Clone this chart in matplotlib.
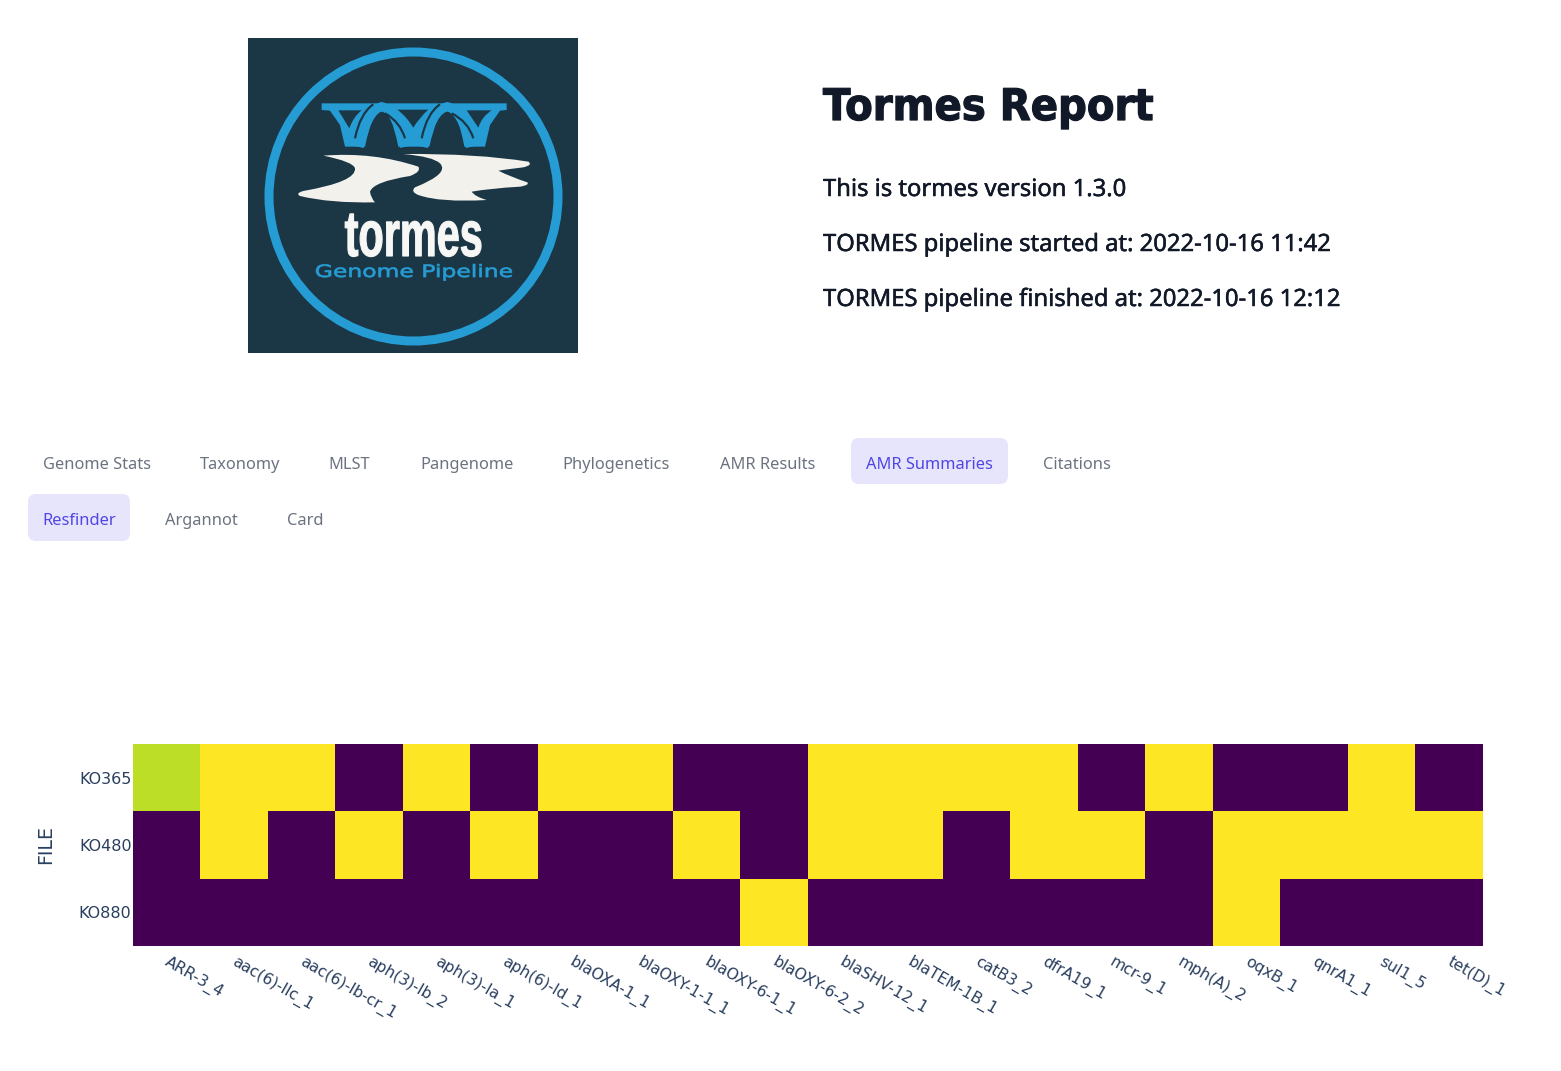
import numpy as np
import matplotlib; matplotlib.use("Agg"); import matplotlib.pyplot as plt
import matplotlib.patheffects as pe
from matplotlib.patches import Circle, FancyBboxPatch, PathPatch, Rectangle
from matplotlib.path import Path
from matplotlib.transforms import Affine2D, ScaledTranslation

W, H = 1561, 1071
genes = ["ARR-3_4", "aac(6)-IIc_1", "aac(6)-Ib-cr_1", "aph(3)-Ib_2", "aph(3)-Ia_1", "aph(6)-Id_1",
         "blaOXA-1_1", "blaOXY-1-1_1", "blaOXY-6-1_1", "blaOXY-6-2_2", "blaSHV-12_1", "blaTEM-1B_1",
         "catB3_2", "dfrA19_1", "mcr-9_1", "mph(A)_2", "oqxB_1", "qnrA1_1", "sul1_5", "tet(D)_1"]
samples = ["KO365", "KO480", "KO880"]
ko365 = [0.9, 1, 1, 0, 1, 0, 1, 1, 0, 0, 1, 1, 1, 1, 0, 1, 0, 0, 1, 0]
ko480 = [0, 1, 0, 1, 0, 1, 0, 0, 1, 0, 1, 1, 0, 1, 1, 0, 1, 1, 1, 1]
ko880 = [0, 0, 0, 0, 0, 0, 0, 0, 0, 1, 0, 0, 0, 0, 0, 0, 1, 0, 0, 0]
tabs_top = ["Genome Stats", "Taxonomy", "MLST", "Pangenome", "Phylogenetics", "AMR Results", "AMR Summaries", "Citations"]
tabs_top_x = [43, 200, 328, 420, 562, 720, 866, 1043]
tabs_sub = ["Resfinder", "Argannot", "Card"]
tabs_sub_x = [42, 165, 287]
info_lines = ["This is tormes version 1.3.0", "TORMES pipeline started at: 2022-10-16 11:42",
              "TORMES pipeline finished at: 2022-10-16 12:12"]

NAVY, BLUE, CREAM = "#1b3746", "#269cd4", "#f3f1ec"
GRAY, ACTIVE, ACTIVE_BG = "#6b7280", "#4f46e5", "#e7e5fb"
INK, TICK = "#111827", "#2a3f5f"
px = 0.72  # css px -> pt at dpi 100

class Stretch(pe.AbstractPathEffect):
    # no condensed/black fonts here, so scale (and thicken) the drawn text around its anchor (page px)
    def __init__(self, x, y, sx=1, sy=1, lw=0):
        self.t = Affine2D().translate(-x, y-H).scale(sx, sy).translate(x, H-y)
        self.lw = lw
    def draw_path(self, renderer, gc, tpath, affine, rgbFace=None):
        if self.lw:
            gc.set_linewidth(self.lw); gc.set_foreground(rgbFace)
        renderer.draw_path(gc, tpath, affine + self.t, rgbFace)

fig = plt.figure(figsize=(W/100, H/100), dpi=100, facecolor="white")
page = fig.add_axes([0, 0, 1, 1]); page.set_xlim(0, W); page.set_ylim(H, 0); page.axis("off")

def curve(pts, ox, oy, color, z_=3, closed=True, lw=0):
    v = [(x/3+ox, y/3+oy) for x, y in pts]
    p = Path(v, [Path.MOVETO] + [Path.CURVE3]*(len(v)-1))
    page.add_patch(PathPatch(p, fc=(color if closed else "none"), ec=(color if lw else "none"), lw=lw, zorder=z_, capstyle="butt"))

def bridge_poly(pts, color, z_=3):
    page.fill(*zip(*[(x/3+310, y/3+95) for x, y in pts]), color=color, lw=0, zorder=z_)

page.add_patch(Rectangle((248, 38), 330, 315, fc=NAVY, ec="none", zorder=1))
page.add_patch(Circle((413.5, 196.5), 144.5, fc="none", ec=BLUE, lw=9*px, zorder=2))

# bridge: solid silhouette, then arches, wedges and slits cut out
bridge_poly([(35, 25), (590, 25), (590, 45), (570, 47), (540, 90), (525, 155), (463, 155), (358, 155), (265, 155),
             (165, 155), (105, 155), (90, 90), (60, 47), (35, 45)], BLUE)
curve([(165, 156), (185, 50), (215, 48), (245, 50), (265, 156)], 310, 95, NAVY, 4)
curve([(358, 156), (380, 50), (412, 48), (445, 50), (463, 156)], 310, 95, NAVY, 4)
curve([(85, 46), (120, 46), (155, 46), (130, 65), (118, 100)], 310, 95, NAVY, 4)
curve([(262, 44), (308, 44), (355, 44), (330, 65), (310, 98), (290, 65), (262, 44)], 310, 95, NAVY, 4)
curve([(470, 46), (505, 46), (545, 46), (515, 65), (505, 98)], 310, 95, NAVY, 4)
# arch rings sit over the cut-outs
curve([(148, 156), (172, 45), (215, 35), (262, 45), (283, 156)], 310, 95, BLUE, 5, closed=False, lw=9*px)
curve([(340, 156), (365, 45), (412, 35), (458, 45), (481, 156)], 310, 95, BLUE, 5, closed=False, lw=9*px)
for sl in [[(135, 130), (150, 55), (190, 28)], [(225, 55), (270, 80), (285, 130)],
           [(335, 130), (350, 55), (390, 28)], [(425, 55), (475, 80), (490, 130)]]:
    curve(sl, 310, 95, NAVY, 6, closed=False, lw=2.2*px)

# river
river_l = [(100, 17), (250, 5), (385, 50), (395, 65), (360, 78), (250, 95), (240, 125), (243, 145), (255, 157),
           (120, 160), (30, 138), (15, 130), (40, 123), (200, 95), (195, 55), (190, 35), (100, 17)]
river_r = [(340, 12), (560, 10), (715, 35), (730, 45), (700, 52), (650, 58), (625, 62), (660, 80), (712, 97),
           (720, 105), (690, 110), (600, 115), (545, 125), (555, 140), (590, 150), (450, 158), (385, 135),
           (360, 125), (375, 112), (480, 70), (450, 40), (430, 20), (340, 12)]
curve(river_l, 290, 150, CREAM); curve(river_r, 290, 150, CREAM)

t = page.text(413.8, 256, "tormes", family="Liberation Sans", fontweight="bold", fontsize=38*px,
              color="#f7f7f5", ha="center", va="baseline", zorder=7)
t.set_path_effects([Stretch(413.8, 256, 1.09, 1.7, lw=0.8)])
t = page.text(413.5, 277, "Genome Pipeline", family="DejaVu Sans", fontsize=17*px,
              color=BLUE, ha="center", va="baseline", zorder=7)
t.set_path_effects([Stretch(413.5, 277, 1.38, 1, lw=0.5)])

# header text
t = page.text(823, 120, "Tormes Report", family="DejaVu Sans", fontweight="bold", fontsize=43.5*px, color=INK, va="baseline")
t.set_path_effects([Stretch(823, 120, 0.925, 1, lw=0.9)])
for txt, y in zip(info_lines, [196, 251, 306]):
    t = page.text(823, y, txt, family="Noto Sans", fontsize=23.8*px, color=INK, va="baseline")
    t.set_path_effects([pe.withStroke(linewidth=0.35, foreground=INK)])

# tabs
for x0, y0, w, h in [(851, 438, 157, 46), (28, 494, 102, 47)]:
    page.add_patch(FancyBboxPatch((x0+8, y0+8), w-16, h-16, boxstyle="round,pad=8,rounding_size=8",
                                  fc=ACTIVE_BG, ec="none", zorder=1))
for names, xs, y, on in [(tabs_top, tabs_top_x, 469, "AMR Summaries"), (tabs_sub, tabs_sub_x, 525, "Resfinder")]:
    for n, x in zip(names, xs):
        page.text(x, y, n, family="Noto Sans", fontsize=16.4*px, color=(ACTIVE if n == on else GRAY), va="baseline", zorder=2)

# heatmap
x0, x1, y0, y1 = 133, 1483, 744, 946
ax = fig.add_axes([x0/W, 1-y1/H, (x1-x0)/W, (y1-y0)/H])
ax.imshow(np.array([ko365, ko480, ko880]), cmap="viridis", vmin=0, vmax=1, aspect="auto", interpolation="nearest")
ax.set_xticks(range(len(genes))); ax.set_yticks(range(len(samples)))
ax.set_xticklabels(genes, rotation=-30, ha="left", va="top", rotation_mode="anchor", family="DejaVu Sans", fontsize=15.6*px, color=TICK)
ax.set_yticklabels(samples, family="DejaVu Sans", fontsize=16*px, color=TICK)
ax.tick_params(length=0, pad=1)
ax.tick_params(axis="x", pad=6)
nudge = ScaledTranslation(3/100, 0, fig.dpi_scale_trans)
for lab in ax.get_xticklabels():
    lab.set_transform(lab.get_transform() + nudge)
for s in ax.spines.values():
    s.set_visible(False)
page.text(46, 844, "FILE", rotation=90, ha="center", va="center", family="DejaVu Sans", fontsize=19*px, color=TICK)

plt.savefig("out.png", dpi=100)
